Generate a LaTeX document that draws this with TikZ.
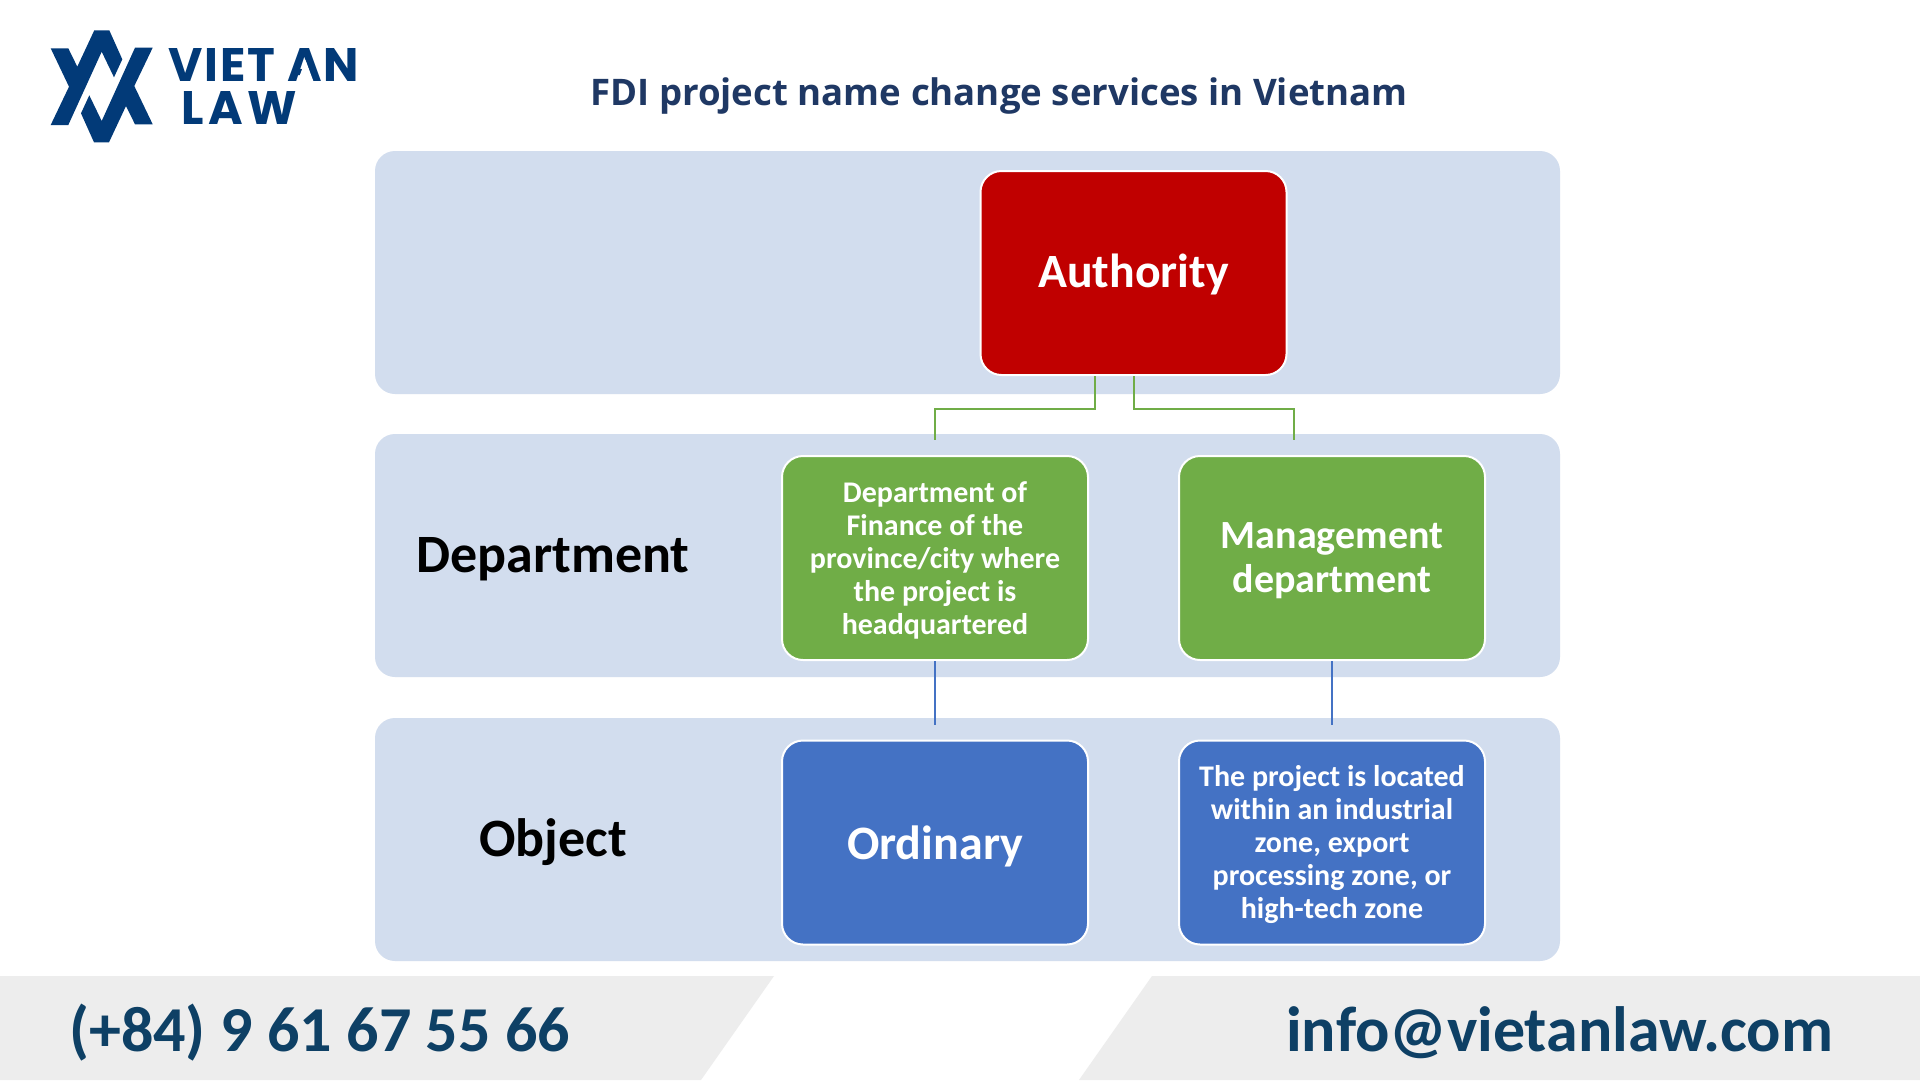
\documentclass[tikz,border=0pt]{standalone}
\usepackage{fontspec}
\setmainfont{Carlito}
\newfontfamily\titlefont{Open Sans}
\newfontfamily\logofont[LetterSpace=4]{Poppins}
\newfontfamily\logofontb[LetterSpace=10]{Poppins}
\definecolor{bandc}{HTML}{D2DDEE}
\definecolor{redc}{HTML}{C00000}
\definecolor{greenc}{HTML}{70AD47}
\definecolor{bluec}{HTML}{4472C4}
\definecolor{logoc}{HTML}{023A78}
\definecolor{footc}{HTML}{EDEDED}
\definecolor{phonec}{HTML}{0E4065}
\definecolor{titlec}{HTML}{1F3864}
\newcommand{\fsz}[1]{\fontsize{#1}{#1}\selectfont}
\newcommand{\lowered}[2]{\raisebox{-#1}[\height][\depth]{#2}}
\tikzset{
  x=1pt,y=-1pt,
  band/.style={fill=bandc,draw=none,rounded corners=20pt},
  box/.style={draw=white,line width=2pt,rounded corners=21pt,inner sep=0pt,align=center,text=white,font=\bfseries},
  cell/.style={box,minimum width=306pt,minimum height=204pt},
  sidelabel/.style={font=\bfseries\fsz{54},text=black,inner sep=0pt},
  gline/.style={draw=greenc,line width=2pt},
  bline/.style={draw=bluec,line width=2pt},
  foot/.style={fill=footc,draw=none},
  contact/.style={font=\bfseries\fsz{64},text=phonec,inner sep=0pt,anchor=base west},
  logotext/.style={text=logoc,inner sep=0pt,anchor=base west},
}
\begin{document}
\begin{tikzpicture}
\useasboundingbox (0,0) rectangle (1920,1080);
\fill[white] (0,0) rectangle (1920,1080);
% logo mark
\fill[logoc] (50.7,48.3)--(68.3,48.3)--(77.3,66.7)--(94.3,30.3)--(109.3,30.3)--(122.3,59.3)--(114,77.3)--(101.7,51.7)--(68.3,125)--(50.7,125)--(69,86.7)--cycle;
\fill[logoc] (152.7,124.3)--(135,124.3)--(126,106)--(109,142.3)--(94,142.3)--(81,113.3)--(89.3,95.3)--(101.7,121)--(135,47.7)--(152.7,47.7)--(134.3,86)--cycle;
\node[logotext,font=\logofont\bfseries\fsz{47}] (logoa) at (168,81) {VIET AN};
\fill[white] (297.5,81.5)--(313.5,81.5)--(305.5,60)--cycle;
\node[logotext,font=\logofontb\bfseries\fsz{47}] (logob) at (181,124) {LAW};
% title
\node[font=\titlefont\bfseries\fsz{36.6},text=titlec,inner sep=0pt] (title) at (999,95.5) {FDI project name change services in Vietnam};
% bands
\fill[band] (375,151) rectangle (1560,394);
\fill[band] (375,434) rectangle (1560,677);
\fill[band] (375,718) rectangle (1560,961);
% footer
\fill[foot] (0,976)--(774,976)--(701,1080)--(0,1080)--cycle;
\fill[foot] (1152,976)--(1920,976)--(1920,1080)--(1079,1080)--cycle;
% boxes
\node[cell,fill=redc,font=\bfseries\fsz{47.8}] (auth) at (1133.5,273) {\lowered{1.5pt}{Authority}};
\node[cell,fill=greenc,font=\bfseries\fsz{30}] (dept) at (935,558) {\rule{0pt}{25pt}Department of\\[3pt]Finance of the\\[3pt]province/city where\\[3pt]the project is\\[3pt]headquartered};
\node[cell,fill=greenc,font=\bfseries\fsz{40}] (mgmt) at (1332,558) {\lowered{2.5pt}{Management}\\[4pt]\lowered{2.5pt}{department}};
\node[cell,fill=bluec,font=\bfseries\fsz{48}] (ord) at (935,842.5) {\lowered{3.5pt}{Ordinary}};
\node[cell,fill=bluec,font=\bfseries\fsz{30}] (proj) at (1332,842.5) {\rule{0pt}{26pt}The project is located\\[3pt]within an industrial\\[3pt]zone, export\\[3pt]processing zone, or\\[3pt]high-tech zone};
% side labels
\node[sidelabel] (ldept) at (553,559.5) {Department};
\node[sidelabel] (lobj) at (553,842) {Object};
% connectors
\coordinate (gl) at (935,440);
\coordinate (gr) at (1294,440);
\coordinate (bl) at (935,725);
\coordinate (br) at (1332,725);
\draw[gline] ([xshift=-38.5pt]auth.south) -- ++(0,33) -| (gl);
\draw[gline] ([xshift=0.5pt]auth.south) -- ++(0,33) -| (gr);
\draw[bline] (dept.south) -- (bl);
\draw[bline] (mgmt.south) -- (br);
% contacts
\node[contact] (phone) at (69,1051) {(+84) 9 61 67 55 66};
\node[contact] (mail) at (1286,1051) {info@vietanlaw.com};
\end{tikzpicture}
\end{document}
